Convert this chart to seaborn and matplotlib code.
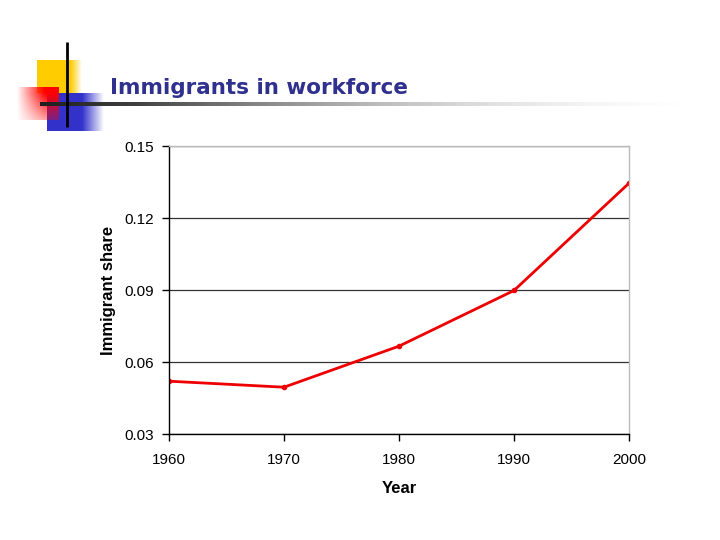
import numpy as np
import pandas as pd
import seaborn as sns
import matplotlib.pyplot as plt

# data
years = [1960, 1970, 1980, 1990, 2000]
share = [0.052, 0.0495, 0.0666, 0.0898, 0.1345]
y_ticks = [0.03, 0.06, 0.09, 0.12, 0.15]
x_ticks = [1960, 1970, 1980, 1990, 2000]

df = pd.DataFrame({"Year": years, "Immigrant share": share})

sns.set_style("white")
plt.rcParams["font.family"] = ["Liberation Sans", "DejaVu Sans"]

fig = plt.figure(figsize=(7.2, 5.4), dpi=100)

# slide decoration layer (pixel coordinates)
deco = fig.add_axes([0, 0, 1, 1], zorder=0)
deco.set_xlim(0, 720)
deco.set_ylim(540, 0)
deco.axis("off")


def fade_rect(ax, x0, x1, y0, y1, rgb, solid_frac):
    n = 200
    xs = np.linspace(0, 1, n)
    a = np.clip((1 - xs) / (1 - solid_frac), 0, 1)
    img = np.zeros((n, n, 4))
    img[..., :3] = rgb
    img[..., 3] = np.tile(a, (n, 1))
    ax.imshow(img, extent=[x0, x1, y1, y0], aspect="auto", interpolation="bilinear")


fade_rect(deco, 37, 82, 60, 93, (1.0, 0.8, 0.0), 0.75)
fade_rect(deco, 47, 104, 93, 131, (0.2, 0.2, 0.8), 0.62)

# red block: strong at the top right, fading left and down
n = 200
xs = np.linspace(0, 1, n)[None, :]
ys = np.linspace(0, 1, n)[:, None]
red = np.zeros((n, n, 4))
red[..., 0] = 1.0
red[..., 3] = np.clip(xs * 1.6 - 0.1, 0, 1) * np.clip(1.15 - ys * 0.8, 0, 1)
deco.imshow(red, extent=[14, 59, 120, 87], aspect="auto", interpolation="bilinear")

deco.plot([67, 67], [42, 127], color="black", lw=2, solid_capstyle="butt")

# gradient rule under the title
g = np.linspace(0, 1, 400)
line = np.zeros((1, 400, 4))
line[0, :, :3] = np.clip(0.12 + g * 0.9, 0, 1)[:, None]
line[0, :, 3] = np.clip(1.15 - g * 1.0, 0, 1)
deco.imshow(line, extent=[40, 700, 106.5, 103], aspect="auto", interpolation="bilinear")

fig.text(110, 540 - 88, "Immigrants in workforce", transform=None, fontsize=15.5,
         fontweight="bold", color="#30308F", family="DejaVu Sans", va="center")

# chart
ax = fig.add_axes([169 / 720, 106 / 540, 460 / 720, 288 / 540], zorder=1)
ax.patch.set_alpha(0)
sns.lineplot(data=df, x="Year", y="Immigrant share", ax=ax, color="#EE0000",
             linewidth=2, marker="o", markersize=4, markeredgewidth=0)

ax.set_xlim(1960, 2000)
ax.set_ylim(0.03, 0.15)
ax.set_xticks(x_ticks)
ax.set_yticks(y_ticks)
ax.set_yticklabels([f"{v:.2f}" for v in y_ticks])
ax.yaxis.grid(True, color="#333333", lw=0.9)
ax.set_axisbelow(True)

for s in ["left", "bottom"]:
    ax.spines[s].set_color("black")
    ax.spines[s].set_linewidth(1)
for s in ["top", "right"]:
    ax.spines[s].set_color("#BBBBBB")
    ax.spines[s].set_linewidth(1)

ax.tick_params(axis="both", direction="out", length=5, width=1, color="black",
               labelsize=11, labelcolor="black", left=True, bottom=True)
ax.tick_params(axis="x", pad=8.5)
ax.tick_params(axis="y", pad=6)
ax.set_xlabel("Year", fontsize=12, fontweight="bold", color="black", labelpad=10.5)
ax.set_ylabel("Immigrant share", fontsize=12, fontweight="bold", color="black",
              labelpad=6)

fig.savefig("out.png", dpi=100)
